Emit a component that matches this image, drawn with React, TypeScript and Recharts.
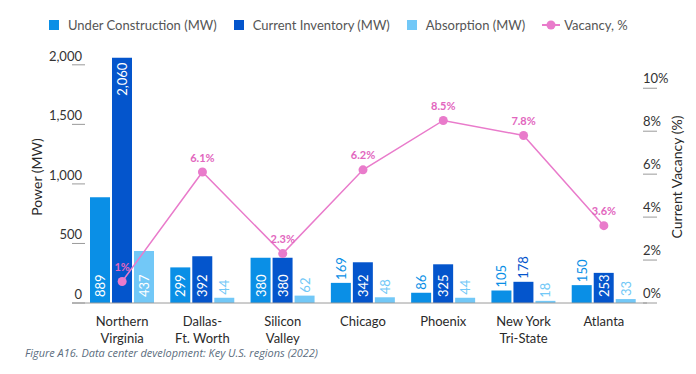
import React from 'react';
import { ComposedChart, Bar, Line, XAxis, YAxis, Legend, LabelList } from 'recharts';

const regions = ['Northern Virginia', 'Dallas-Ft. Worth', 'Silicon Valley', 'Chicago', 'Phoenix', 'New York Tri-State', 'Atlanta'];
const regionLabelLines = [['Northern', 'Virginia'], ['Dallas-', 'Ft. Worth'], ['Silicon', 'Valley'], ['Chicago'], ['Phoenix'], ['New York', 'Tri-State'], ['Atlanta']];
const underConstruction = [889, 299, 380, 169, 86, 105, 150];
const currentInventory = [2060, 392, 380, 342, 325, 178, 253];
const absorption = [437, 44, 62, 48, 44, 18, 33];
const vacancy = [1, 6.1, 2.3, 6.2, 8.5, 7.8, 3.6];
const powerTicks = [0, 500, 1000, 1500, 2000];
const vacancyTicks = [0, 2, 4, 6, 8, 10];

const C_UC = '#0A8FE6';
const C_INV = '#0455CC';
const C_ABS = '#72C8F7';
const C_VAC = '#E97BCB';
const C_VAC_TXT = '#E266BE';
const FONT = 'Lato, "Open Sans", sans-serif';

const data = regions.map((r, i) => ({
  region: r,
  uc: underConstruction[i],
  inv: currentInventory[i],
  abs: absorption[i],
  vac: vacancy[i],
}));

const fmt = (v: number) => v.toLocaleString('en-US');

const makeBarLabel = (color: string) => (props: any) => {
  const { x, y, width, height, value } = props;
  const cx = x + width / 2;
  const base = y + height;
  if (value > 1500) {
    return (
      <text x={cx} y={y + 5} transform={`rotate(-90 ${cx} ${y + 5})`} textAnchor="end" dominantBaseline="central" fill="#fff" fontSize={13} fontFamily={FONT}>
        {fmt(value)}
      </text>
    );
  }
  if (value >= 200) {
    return (
      <text x={cx} y={base - 6} transform={`rotate(-90 ${cx} ${base - 6})`} textAnchor="start" dominantBaseline="central" fill="#fff" fontSize={13} fontFamily={FONT}>
        {fmt(value)}
      </text>
    );
  }
  return (
    <text x={cx} y={y - 3} transform={`rotate(-90 ${cx} ${y - 3})`} textAnchor="start" dominantBaseline="central" fill={color} fontSize={13} fontFamily={FONT}>
      {fmt(value)}
    </text>
  );
};

const vacLabel = (props: any) => {
  const { x, y, value } = props;
  return (
    <text x={x} y={y - 15} textAnchor="middle" dominantBaseline="central" fill={C_VAC_TXT} fontSize={11} fontWeight={700} fontFamily={FONT}>
      {`${value}%`}
    </text>
  );
};

const XTick = (props: any) => {
  const { x, y, payload } = props;
  const lines = regionLabelLines[payload.index] || [payload.value];
  return (
    <g>
      {lines.map((l: string, i: number) => (
        <text key={i} x={x} y={y + 15 + i * 16.5} textAnchor="middle" fill="#2a2a2a" fontSize={13} fontFamily={FONT}>
          {l}
        </text>
      ))}
    </g>
  );
};

const LeftTick = (props: any) => {
  const { y, payload } = props;
  const ax = 72;
  return (
    <g>
      <line x1={ax} x2={ax + 13} y1={y} y2={y} stroke="#9a9a9a" strokeWidth={1} />
      <text x={ax + 10} y={y - 9} textAnchor="end" dominantBaseline="central" fill="#333" fontSize={13} fontFamily={FONT}>
        {fmt(payload.value)}
      </text>
    </g>
  );
};

const RightTick = (props: any) => {
  const { y, payload } = props;
  const ax = 643;
  return (
    <g>
      <line x1={ax} x2={ax + 14} y1={y} y2={y} stroke="#9a9a9a" strokeWidth={1} />
      <text x={ax} y={y - 10} textAnchor="start" dominantBaseline="central" fill="#333" fontSize={13} fontFamily={FONT}>
        {`${payload.value}%`}
      </text>
    </g>
  );
};

const LegendContent = () => {
  const items = [
    { label: 'Under Construction (MW)', color: C_UC, type: 'square' },
    { label: 'Current Inventory (MW)', color: C_INV, type: 'square' },
    { label: 'Absorption (MW)', color: C_ABS, type: 'square' },
    { label: 'Vacancy, %', color: C_VAC, type: 'line' },
  ];
  return (
    <div style={{ display: 'flex', alignItems: 'center', height: 20, paddingLeft: 49, fontFamily: FONT, fontSize: 13, color: '#555' }}>
      {items.map((it, i) => (
        <div key={i} style={{ display: 'flex', alignItems: 'center', marginRight: 17 }}>
          {it.type === 'square' ? (
            <svg width={10} height={10} style={{ marginRight: 9 }}>
              <rect width={10} height={10} fill={it.color} />
            </svg>
          ) : (
            <svg width={18} height={10} style={{ marginRight: 4 }}>
              <line x1={0} x2={18} y1={5} y2={5} stroke={it.color} strokeWidth={2} />
              <circle cx={9} cy={5} r={4.5} fill={it.color} />
            </svg>
          )}
          <span>{it.label}</span>
        </div>
      ))}
    </div>
  );
};

export default function App() {
  return (
    <div style={{ position: 'absolute', left: 0, top: 0, width: 696, height: 374, background: '#fff' }}>
      <ComposedChart
        width={696}
        height={374}
        data={data}
        margin={{ top: 21, right: 0, bottom: 0, left: 0 }}
        barSize={20}
        barGap={2}
        style={{ fontFamily: FONT }}
      >
        <Legend verticalAlign="top" content={<LegendContent />} wrapperStyle={{ top: 15, left: 0, width: 696, height: 20 }} />
        <XAxis
          dataKey="region"
          padding={{ left: 10, right: 3 }}
          axisLine={{ stroke: '#9a9a9a' }}
          tickLine={false}
          interval={0}
          height={71}
          tick={<XTick />}
        />
        <YAxis
          yAxisId="left"
          width={72}
          domain={[0, 2200]}
          ticks={powerTicks}
          axisLine={false}
          tickLine={false}
          tick={<LeftTick />}
          label={(p: any) => {
            const vb = p.viewBox;
            const cx = vb.x + vb.width / 2;
            const cy = vb.y + vb.height / 2 + 5;
            return (
              <text x={cx} y={cy} transform={`rotate(-90 ${cx} ${cy})`} textAnchor="middle" dominantBaseline="central" fill="#2a2a2a" fontSize={14} fontFamily={FONT}>
                Power (MW)
              </text>
            );
          }}
        />
        <YAxis
          yAxisId="right"
          orientation="right"
          width={49}
          domain={[0, 12.2]}
          ticks={vacancyTicks}
          axisLine={false}
          tickLine={false}
          tick={<RightTick />}
          label={(p: any) => {
            const vb = p.viewBox;
            const cx = vb.x + vb.width / 2 + 5;
            const cy = vb.y + vb.height / 2 + 5;
            return (
              <text x={cx} y={cy} transform={`rotate(-90 ${cx} ${cy})`} textAnchor="middle" dominantBaseline="central" fill="#2a2a2a" fontSize={14} fontFamily={FONT}>
                Current Vacancy (%)
              </text>
            );
          }}
        />
        <Bar yAxisId="left" dataKey="uc" name="Under Construction (MW)" fill={C_UC} isAnimationActive={false}>
          <LabelList dataKey="uc" content={makeBarLabel(C_UC)} />
        </Bar>
        <Bar yAxisId="left" dataKey="inv" name="Current Inventory (MW)" fill={C_INV} isAnimationActive={false}>
          <LabelList dataKey="inv" content={makeBarLabel(C_INV)} />
        </Bar>
        <Bar yAxisId="left" dataKey="abs" name="Absorption (MW)" fill={C_ABS} isAnimationActive={false}>
          <LabelList dataKey="abs" content={makeBarLabel(C_ABS)} />
        </Bar>
        <Line
          yAxisId="right"
          dataKey="vac"
          name="Vacancy, %"
          stroke={C_VAC}
          strokeWidth={1.5}
          dot={{ r: 4.5, fill: C_VAC, stroke: 'none' }}
          activeDot={false}
          isAnimationActive={false}
        >
          <LabelList dataKey="vac" content={vacLabel} />
        </Line>
      </ComposedChart>
      <svg style={{ position: 'absolute', left: 0, top: 343 }} width={340} height={24}>
        <text x={25} y={14} textLength={293} lengthAdjust="spacingAndGlyphs" fill="#5b6d7e" fontSize={11} fontStyle="italic" fontFamily='"Open Sans", "Liberation Sans", sans-serif'>
          Figure A16. Data center development: Key U.S. regions (2022)
        </text>
      </svg>
    </div>
  );
}
